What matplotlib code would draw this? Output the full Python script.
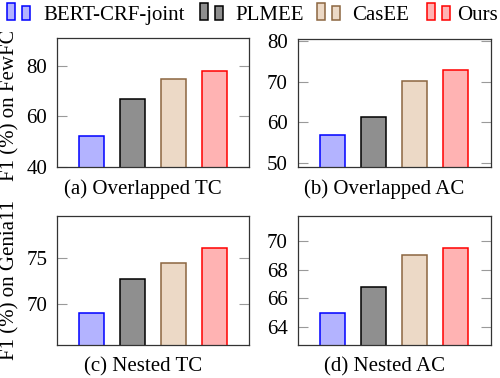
import matplotlib
matplotlib.use("Agg")
import matplotlib.pyplot as plt
from matplotlib.patches import Rectangle
from matplotlib.transforms import Bbox

plt.rcParams['font.family'] = ['Liberation Serif', 'DejaVu Serif']
plt.rcParams['mathtext.fontset'] = 'stix'

# ---- data ----
methods = ["BERT-CRF-joint", "PLMEE", "CasEE", "Ours"]
overlapped_tc = [52.0, 66.7, 74.9, 77.9]
overlapped_ac = [56.9, 61.3, 70.3, 72.8]
nested_tc = [69.0, 72.75, 74.5, 76.1]
nested_ac = [65.0, 66.8, 69.0, 69.5]
ticks_a = [40, 60, 80]
ticks_b = [50, 60, 70, 80]
ticks_c = [70, 75]
ticks_d = [64, 66, 68, 70]
captions = ["(a) Overlapped TC", "(b) Overlapped AC", "(c) Nested TC", "(d) Nested AC"]
ylabels = ["F1 (%) on FewFC", "F1 (%) on Genia11"]

# ---- style ----
fills = ["#b3b3ff", "#8f8f8f", "#ecd9c6", "#ffb3b3"]
edges = ["#0000ff", "#000000", "#8c6640", "#ff0000"]
FS = 15

W, H = 500, 378
fig = plt.figure(figsize=(W / 100, H / 100), dpi=100)


def px_axes(x0, y0, x1, y1):
    return fig.add_axes([x0 / W, 1 - y1 / H, (x1 - x0) / W, (y1 - y0) / H])


def panel(rect, vals, ylim, ticks):
    ax = px_axes(*rect)
    xs = list(range(len(vals)))
    for i, v in enumerate(vals):
        ax.bar(xs[i], v, width=0.6, color=fills[i], edgecolor=edges[i],
               linewidth=1.1, zorder=2)
    ax.set_xlim(-0.85, 3.85)
    ax.set_ylim(*ylim)
    ax.set_xticks([])
    ax.set_yticks(ticks)
    ax.set_yticklabels([str(t) for t in ticks])
    ax.tick_params(axis='y', direction='in', length=7, width=0.8,
                   color='#9a9a9a', left=True, right=True, labelsize=FS, pad=7)
    for s in ax.spines.values():
        s.set_linewidth(0.9)
        s.set_color('#333333')
        s.set_zorder(3)
    return ax


panel((57, 38, 249, 167), overlapped_tc, (39.9, 91.0), ticks_a)
panel((297.7, 39, 490.7, 167.3), overlapped_ac, (49.0, 80.5), ticks_b)
panel((57, 215.7, 249, 345), nested_tc, (65.45, 79.7), ticks_c)
panel((297.7, 215.7, 490.7, 345), nested_ac, (62.77, 71.73), ticks_d)

# captions
for (cx, cy), txt in zip([(143, 189), (384, 189), (143, 367), (384, 367)], captions):
    fig.text(cx / W, 1 - cy / H, txt, ha='center', va='center', fontsize=FS)

# y labels
t1 = fig.text(10 / W, 1 - 105 / H, ylabels[0], rotation=90, ha='center',
              va='center', fontsize=FS)
t1.set_clip_on(True)
t1.set_clip_box(Bbox.from_extents(0, 0, 60, H - 32))
fig.text(10 / W, 1 - 280.5 / H, ylabels[1], rotation=90, ha='center',
         va='center', fontsize=FS)

# legend (drawn in figure pixel space)
marker_x = [7, 200, 317, 427]
text_x = [43, 235, 352, 457]
for i, name in enumerate(methods):
    x0 = marker_x[i]
    for dx, top in [(0, 3), (15, 6)]:
        r = Rectangle(((x0 + dx) / W, 1 - 20 / H), 8 / W, (20 - top) / H,
                      transform=fig.transFigure, facecolor=fills[i],
                      edgecolor=edges[i], linewidth=1.1)
        fig.patches.append(r)
    fig.text(text_x[i] / W, 1 - 20 / H, name, ha='left', va='baseline',
             fontsize=FS)

fig.savefig("out.png", dpi=100)
